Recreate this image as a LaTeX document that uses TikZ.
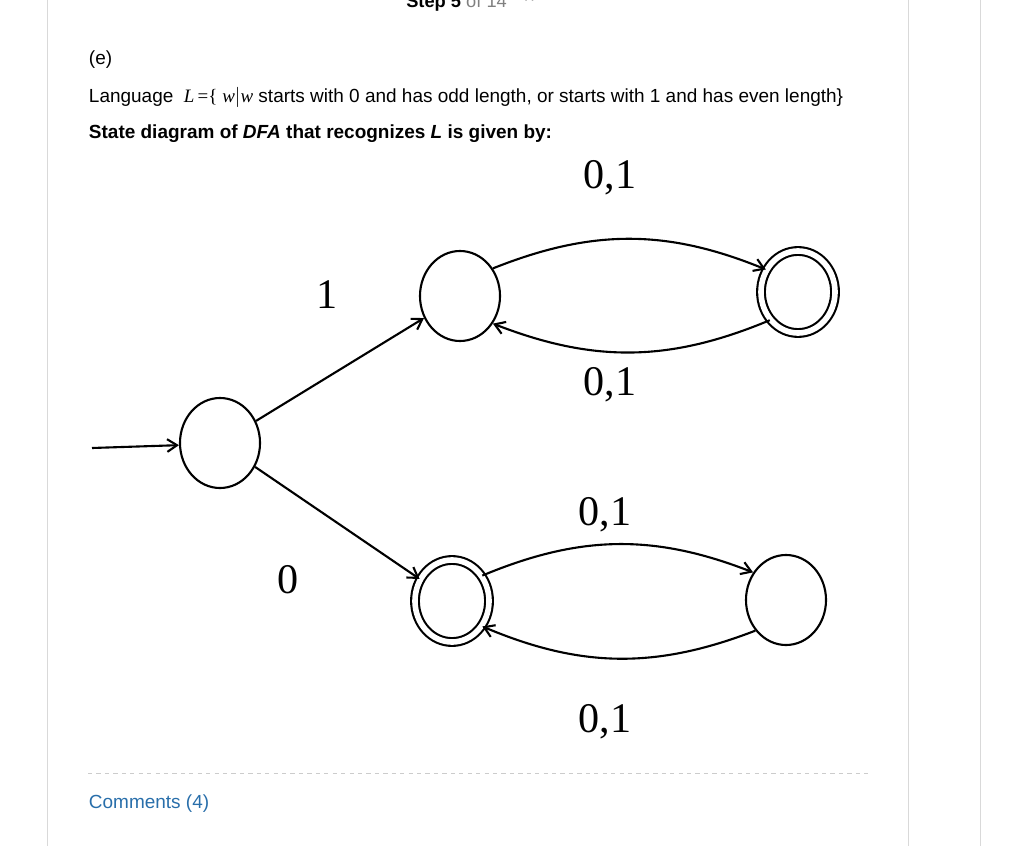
\documentclass[tikz,border=0pt]{standalone}
\usepackage{fontspec}
\setmainfont{Liberation Sans}
\newfontfamily\tnr{Liberation Serif}
\usetikzlibrary{arrows.meta,shapes.geometric}
\begin{document}
\begin{tikzpicture}[x=0.025cm,y=-0.025cm,
  st/.style={draw,line width=1.5pt,ellipse,minimum width=2cm,minimum height=2.25cm,inner sep=0},
  acc/.style={st,double,double distance=4pt,minimum width=1.85cm,minimum height=2.05cm},
  lbl/.style={font=\tnr\fontsize{30}{30}\selectfont},
  edge/.style={line width=1.5pt,-{Straight Barb[length=7pt,width=9pt]}},
  txt/.style={anchor=west,font=\fontsize{13.5}{15}\selectfont}]
\useasboundingbox (0,0) rectangle (1024,846);
\draw[gray!30] (47,0) -- (47,846) (908,0) -- (908,846) (980,0) -- (980,846);
\node (step) at (470,3) {\fontsize{13}{13}\selectfont\textbf{Step 5} \textcolor{gray}{of 14}\quad\textcolor{gray!60}{\^{}}};
\node[txt] (e) at (84,60) {(e)};
\node[txt] (lang) at (84,97) {Language \ {\tnr\itshape L}\,{\tnr =\{ {\itshape w}$|${\itshape w}} starts with 0 and has odd length, or starts with 1 and has even length\}};
\node[txt] (sd) at (84,134) {\bfseries State diagram of \textit{DFA} that recognizes \textit{L} is given by:};
\node[st] (q0) at (220,443) {};
\node[st] (a) at (460,296) {};
\node[acc] (b) at (798,292) {};
\node[acc] (c) at (452,601) {};
\node[st] (d) at (786,600) {};
\coordinate (s) at (92,448);
\draw[edge] (s) -- (q0.183);
\draw[edge] (q0) -- (a);
\draw[edge] (q0) -- (c);
\draw[edge] (a.40) to[bend left=22] (b.145);
\draw[edge] (b.225) to[bend left=22] (a.320);
\draw[edge] (c.40) to[bend left=22] (d.140);
\draw[edge] (d.225) to[bend left=22] (c.320);
\node[lbl] (l1) at (610,178) {0,1};
\node[lbl] (l2) at (327,295) {1};
\node[lbl] (l3) at (610,385) {0,1};
\node[lbl] (l4) at (605,515) {0,1};
\node[lbl] (l5) at (288,580) {0};
\node[lbl] (l6) at (605,722) {0,1};
\draw[gray!40,dashed] (88,773) -- (868,773);
\node[txt,text={rgb,255:red,40;green,110;blue,170}] (cm) at (84,804) {Comments (4)};
\end{tikzpicture}
\end{document}
